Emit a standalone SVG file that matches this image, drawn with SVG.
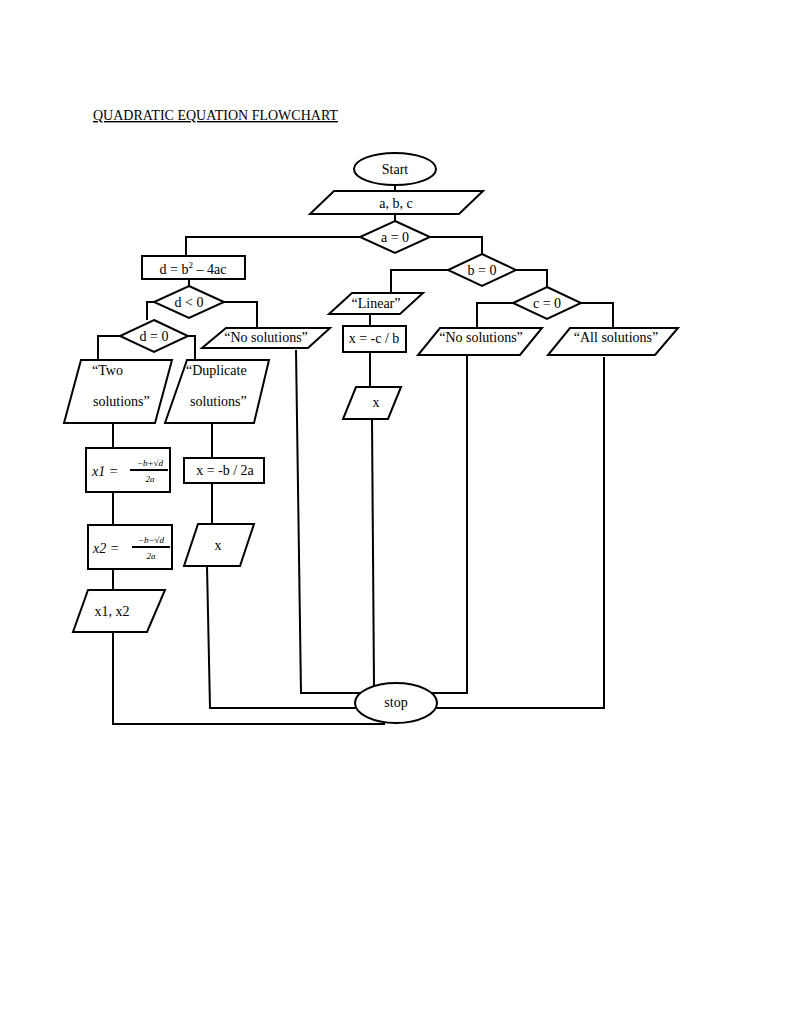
<svg xmlns="http://www.w3.org/2000/svg" width="791" height="1024" viewBox="0 0 791 1024">
<style>
.s{fill:#fff;stroke:#000;stroke-width:2}
.c{fill:none;stroke:#000;stroke-width:2}
text{font-family:"Liberation Serif",serif;font-size:14px;fill:#000}
.m{text-anchor:middle}
.f{font-size:9px}
.i{font-style:italic}
</style>
<rect width="791" height="1024" fill="#fff"/>
<text x="93" y="120" font-size="14" text-decoration="underline">QUADRATIC EQUATION FLOWCHART</text>
<g id="connectors" class="c">
<path d="M395,185V191M395,214V221"/>
<path d="M360,237H186V256"/>
<path d="M430,237H482V254"/>
<path d="M448,270H391V293"/>
<path d="M370,314V326M370,352V387"/>
<path d="M516,270H547V287"/>
<path d="M513,303H477V328"/>
<path d="M581,303H613V328"/>
<path d="M189,279V286"/>
<path d="M154,302H147V320"/>
<path d="M224,302H257V328"/>
<path d="M120,336H98V360"/>
<path d="M188,336H195V360"/>
<path d="M113,423V448M113,492V525M113,569V590"/>
<path d="M212,423V458M212,483V524"/>
<path d="M113,632V724H385"/>
<path d="M207,566L210,708H356"/>
<path d="M296,350L301,693H374"/>
<path d="M372,419L374,686"/>
<path d="M467,355V693H420"/>
<path d="M604,357V708H436"/>
</g>
<g id="start"><ellipse class="s" cx="395" cy="169" rx="41" ry="16"/><text class="m" x="395" y="174">Start</text></g>
<g id="input"><polygon class="s" points="334,191 483,191 459,214 310,214"/><text class="m" x="396" y="208">a, b, c</text></g>
<g id="a0"><polygon class="s" points="395,221 430,237 395,253 360,237"/><text class="m" x="395" y="242">a = 0</text></g>
<g id="disc"><rect class="s" x="142" y="256" width="103" height="23"/><text class="m" x="193" y="274">d = b<tspan font-size="9" dy="-6">2</tspan><tspan dy="6"> – 4ac</tspan></text></g>
<g id="dlt0"><polygon class="s" points="189,286 224,302 189,318 154,302"/><text class="m" x="189" y="307">d &lt; 0</text></g>
<g id="deq0"><polygon class="s" points="154,320 188,336 154,352 120,336"/><text class="m" x="154" y="341">d = 0</text></g>
<g id="nosol1"><polygon class="s" points="226,328 330,328 308,348 202,348"/><text class="m" x="266" y="342">“No solutions”</text></g>
<g id="two"><polygon class="s" points="81,360 172,360 155,423 64,423"/><text x="92" y="375">“Two</text><text x="93" y="406">solutions”</text></g>
<g id="dup"><polygon class="s" points="187,360 269,360 254,423 165,423"/><text x="186" y="375">“Duplicate</text><text x="190" y="406">solutions”</text></g>
<g id="x1"><rect class="s" x="86" y="448" width="84" height="44"/><text class="i" x="92" y="476" font-size="15">x1 =</text><text class="m f i" x="150" y="466">−b+√d</text><line class="c" x1="130" y1="470" x2="168" y2="470" stroke-width="1"/><text class="m f i" x="150" y="482">2a</text></g>
<g id="x2"><rect class="s" x="88" y="525" width="84" height="44"/><text class="i" x="93" y="553" font-size="15">x2 =</text><text class="m f i" x="151" y="543">−b−√d</text><line class="c" x1="132" y1="547" x2="170" y2="547" stroke-width="1"/><text class="m f i" x="151" y="559">2a</text></g>
<g id="out12"><polygon class="s" points="88,590 165,590 147,632 73,632"/><text class="m" x="112" y="616">x1, x2</text></g>
<g id="xdup"><rect class="s" x="184" y="458" width="80" height="25"/><text class="m" x="225" y="475">x = -b / 2a</text></g>
<g id="outx1"><polygon class="s" points="198,524 254,524 240,566 184,566"/><text class="m" x="218" y="550">x</text></g>
<g id="b0"><polygon class="s" points="482,254 516,270 482,286 448,270"/><text class="m" x="482" y="275">b = 0</text></g>
<g id="linear"><polygon class="s" points="352,293 423,293 400,314 329,314"/><text class="m" x="376" y="308">“Linear”</text></g>
<g id="xlin"><rect class="s" x="343" y="326" width="63" height="26"/><text class="m" x="374" y="343">x = -c / b</text></g>
<g id="outx2"><polygon class="s" points="356,387 401,387 388,419 343,419"/><text class="m" x="376" y="407">x</text></g>
<g id="c0"><polygon class="s" points="547,287 581,303 547,319 513,303"/><text class="m" x="547" y="308">c = 0</text></g>
<g id="nosol2"><polygon class="s" points="440,328 542,328 520,355 418,355"/><text class="m" x="481" y="342">“No solutions”</text></g>
<g id="allsol"><polygon class="s" points="570,328 678,328 655,355 548,355"/><text class="m" x="616" y="342">“All solutions”</text></g>
<g id="stop"><ellipse class="s" cx="396" cy="703" rx="41" ry="20"/><text class="m" x="396" y="707">stop</text></g>
</svg>
